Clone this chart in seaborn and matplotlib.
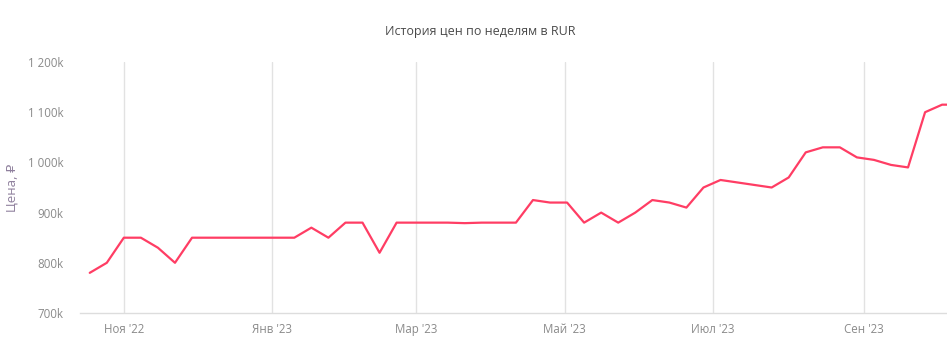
import matplotlib
matplotlib.use("Agg")
import matplotlib.pyplot as plt
import seaborn as sns
import pandas as pd
import numpy as np

title = "История цен по неделям в RUR"
ylabel = "Цена, ₽"
start_week = "2022-10-18"
prices_k = [780, 800, 850, 850, 830, 800, 850, 850, 850, 850,
            850, 850, 850, 870, 850, 880, 880, 820, 880, 880,
            880, 880, 879, 880, 880, 880, 925, 920, 920, 880,
            900, 880, 900, 925, 920, 910, 950, 965, 960, 955,
            950, 970, 1020, 1030, 1030, 1010, 1005, 995, 990, 1100,
            1115, 1115]
tick_dates = ["2022-11-01", "2023-01-01", "2023-03-01", "2023-05-01", "2023-07-01", "2023-09-01"]
tick_labels = ["Ноя '22", "Янв '23", "Мар '23", "Май '23", "Июл '23", "Сен '23"]
ytick_vals = [700, 800, 900, 1000, 1100, 1200]
ytick_labels = ["700k", "800k", "900k", "1 000k", "1 100k", "1 200k"]

sns.set_theme(style="white")
plt.rcParams['font.family'] = ['Open Sans', 'DejaVu Sans']

dates = pd.date_range(start_week, periods=len(prices_k), freq="7D")
df = pd.DataFrame({"date": dates, "price": np.array(prices_k) * 1000})

fig = plt.figure(figsize=(9.47, 3.41), dpi=100)
ax = fig.add_axes([80/947, 1 - 313/341, 1 - 80/947, (313 - 62)/341])
sns.lineplot(data=df, x="date", y="price", ax=ax, color="#ff3d64", linewidth=1.6)

ax.set_xlim(pd.Timestamp("2022-10-14"), pd.Timestamp("2023-10-05"))
ax.set_ylim(700000, 1200000)
ax.set_xticks(pd.to_datetime(tick_dates))
ax.set_xticklabels(tick_labels)
ax.set_yticks([v * 1000 for v in ytick_vals])
ax.set_yticklabels(ytick_labels)
ax.tick_params(axis="both", length=0, labelsize=8.3, labelcolor="#8a8a8a")
ax.tick_params(axis="y", pad=12)
ax.tick_params(axis="x", pad=7)
ax.grid(axis="x", color="#e2e2e2", linewidth=1)
ax.grid(axis="y", visible=False)
for s in ["top", "right", "left"]:
    ax.spines[s].set_visible(False)
ax.spines["bottom"].set_color("#dddddd")
ax.spines["bottom"].set_linewidth(1)
ax.set_xlabel("")
ax.set_ylabel(ylabel, fontsize=9.5, color="#8e7f9c")
ax.yaxis.set_label_coords(-(80 - 18)/867, 0.5)
fig.text(480/947, 1 - 32/341, title, ha="center", va="center", fontsize=9, color="#4a4a4a")
fig.savefig("out.png", dpi=100)
